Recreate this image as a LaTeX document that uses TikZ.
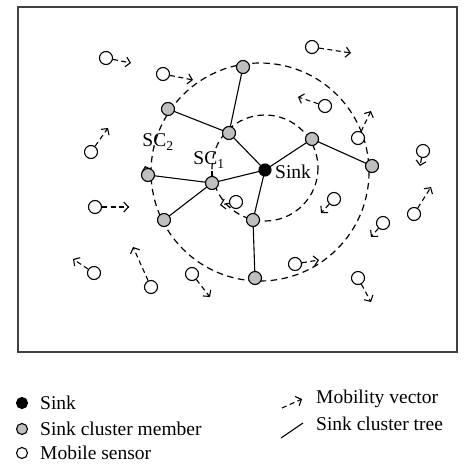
\documentclass[tikz,border=0pt]{standalone}
\usepackage{fontspec}
\setmainfont{Liberation Serif}
\usetikzlibrary{arrows.meta}
\tikzset{
  sinknode/.style={circle,draw=black,fill=black,line width=1.1pt,minimum size=12pt,inner sep=0pt},
  member/.style={circle,draw=black,fill=gray!50,line width=1.1pt,minimum size=13pt,inner sep=0pt},
  sensor/.style={circle,draw=black,fill=white,line width=1.1pt,minimum size=13pt,inner sep=0pt},
  mv/.style={dash pattern=on 5pt off 3.5pt,line width=1.1pt,-{Straight Barb[length=4.5pt,width=10pt,line width=1.1pt]}},
  tree/.style={line width=1.1pt},
  ring/.style={dash pattern=on 6.5pt off 4.5pt,line width=1.2pt},
  lbl/.style={font=\fontsize{19.5}{22}\selectfont,inner sep=0pt},
}
\begin{document}
\begin{tikzpicture}[x=1pt,y=-1pt]
\useasboundingbox (0,0) rectangle (474,474);
\fill[white] (0,0) rectangle (474,474);
\draw[line width=1.5pt,draw=black!75] (18,7) rectangle (457,352);
% rings
\draw[ring] (260,172) circle (109);
\draw[ring] (265,168) circle (53);
% coordinates of nodes
\coordinate (s) at (265,170);
\coordinate (g1) at (243,67);
\coordinate (g2) at (168,109);
\coordinate (g3) at (229,133);
\coordinate (g4) at (312,139);
\coordinate (g5) at (372,166);
\coordinate (sc1) at (212,183);
\coordinate (sc2) at (148,175);
\coordinate (g8) at (164,220);
\coordinate (g9) at (253,220);
\coordinate (g10) at (255,278);
% tree
\draw[tree] (s) -- (g3) -- (g1);
\draw[tree] (g3) -- (g2);
\draw[tree] (s) -- (g4) -- (g5);
\draw[tree] (s) -- (sc1) -- (sc2);
\draw[tree] (sc1) -- (g8);
\draw[tree] (s) -- (g9) -- (g10);
\draw[tree] (sc1) -- (212,171);
% mobility arrow hidden under SC2
\coordinate (m18) at (145,166);
\draw[mv] (sc2) -- (m18);
% members
\node[member] (n1) at (g1) {};
\node[member] (n2) at (g2) {};
\node[member] (n3) at (g3) {};
\node[member] (n4) at (g4) {};
\node[member] (n5) at (g5) {};
\node[member] (nsc1) at (sc1) {};
\node[member] (nsc2) at (sc2) {};
\node[member] (n8) at (g8) {};
\node[member] (n9) at (g9) {};
\node[member] (n10) at (g10) {};
\node[sinknode] (sink) at (s) {};
% labels
\node[lbl,anchor=west] (sinklbl) at (275,172) {Sink};
\node[lbl] (sc1lbl) at (209,160) {SC\textsubscript{1}};
\node[lbl] (sc2lbl) at (158,142) {SC\textsubscript{2}};
% sensors with mobility vectors
\node[sensor] (a1) at (106,58) {};   \coordinate (b1) at (131,63);
\node[sensor] (a2) at (163,74) {};   \coordinate (b2) at (193,80);
\node[sensor] (a3) at (91,152) {};   \coordinate (b3) at (108,128);
\node[sensor] (a4) at (312,47) {};   \coordinate (b4) at (351,53);
\node[sensor] (a5) at (325,106) {};  \coordinate (b5) at (298,97);
\node[sensor] (a6) at (358,138) {};  \coordinate (b6) at (371,111);
\node[sensor] (a7) at (423,151) {};  \coordinate (b7) at (420,166);
\node[sensor] (a8) at (414,214) {};  \coordinate (b8) at (431,187);
\node[sensor] (a9) at (383,223) {};  \coordinate (b9) at (371,237);
\node[sensor] (a10) at (334,199) {}; \coordinate (b10) at (321,213);
\node[sensor] (a11) at (295,264) {}; \coordinate (b11) at (319,260);
\node[sensor] (a12) at (358,278) {}; \coordinate (b12) at (371,302);
\node[sensor] (a13) at (236,202) {}; \coordinate (b13) at (220,205);
\node[sensor] (a14) at (95,207) {};  \coordinate (b14) at (129,207);
\node[sensor] (a15) at (94,273) {};  \coordinate (b15) at (73,259);
\node[sensor] (a16) at (151,287) {}; \coordinate (b16) at (133,247);
\node[sensor] (a17) at (192,274) {}; \coordinate (b17) at (210,297);
\foreach \i in {1,...,17} {\draw[mv] (a\i) -- (b\i);}
% legend
\node[sinknode,minimum size=11pt] (l1) at (22,403) {};
\node[member,minimum size=11pt] (l2) at (22,429) {};
\node[sensor,minimum size=11pt] (l3) at (22,453) {};
\node[lbl,anchor=west] (t1) at (40,403) {Sink};
\node[lbl,anchor=west] (t2) at (40,429) {Sink cluster member};
\node[lbl,anchor=west] (t3) at (40,453) {Mobile sensor};
\coordinate (la1) at (282,408); \coordinate (la2) at (302,399);
\draw[mv] (la1) -- (la2);
\coordinate (lt1) at (281,438); \coordinate (lt2) at (303,423);
\draw[tree] (lt1) -- (lt2);
\node[lbl,anchor=west] (t4) at (316,399) {Mobility vector};
\node[lbl,anchor=west] (t5) at (316,424) {Sink cluster tree};
\end{tikzpicture}
\end{document}
